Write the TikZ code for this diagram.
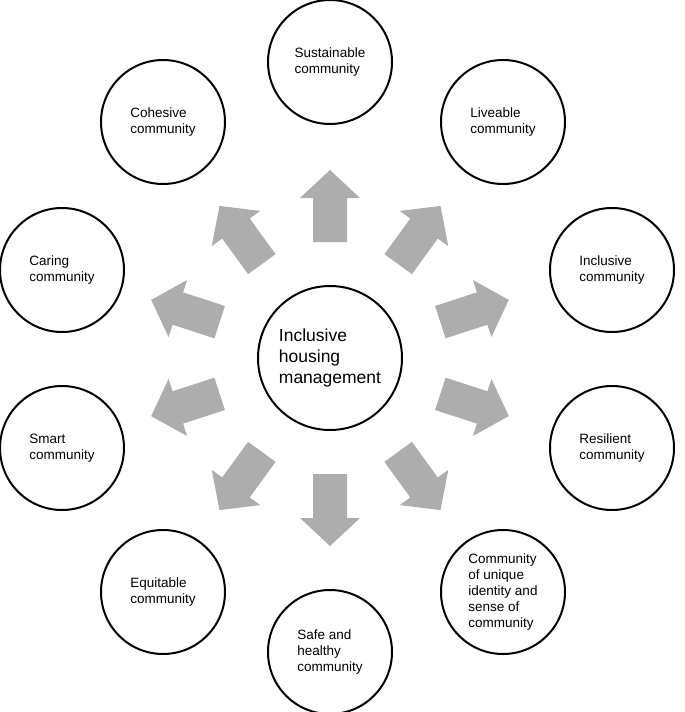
\documentclass[tikz,border=0pt]{standalone}
\usepackage{fontspec}
\setmainfont{Liberation Sans}
\usetikzlibrary{calc}
\begin{document}
\begin{tikzpicture}[x=1pt,y=-1pt,
  outer/.style={circle,draw,line width=2pt,minimum size=124pt,align=left,font=\fontsize{13.5}{16}\selectfont,inner sep=0pt},
  blockarrow/.style={fill=black!32,draw=none}]
\useasboundingbox (0,0) rectangle (685,712);
\node[circle,draw,line width=2pt,minimum size=144pt,align=left,font=\fontsize{17.5}{21}\selectfont] (c) at (330,358) {Inclusive\\housing\\management};
\foreach \x/\y/\txt [count=\i] in {330/62/{Sustainable\\community},503/122/{Liveable\\community},612/270/{Inclusive\\community},612/448/{Resilient\\community},503/592/{Community\\of unique\\identity and\\sense of\\community},330/652/{Safe and\\healthy\\community},163/592/{Equitable\\community},62/448/{Smart\\community},62/270/{Caring\\community},163/122/{Cohesive\\community}}{
  \node[outer] (o\i) at (\x,\y) {\txt};
}
\foreach \ang in {90,54,18,-18,-54,-90,-126,-162,162,126}{
  \begin{scope}[shift={(c.center)},rotate=\ang]
    \fill[blockarrow] (116,-17) -- (160,-17) -- (160,-30) -- (188,0) -- (160,30) -- (160,17) -- (116,17) -- cycle;
  \end{scope}
}
\end{tikzpicture}
\end{document}
